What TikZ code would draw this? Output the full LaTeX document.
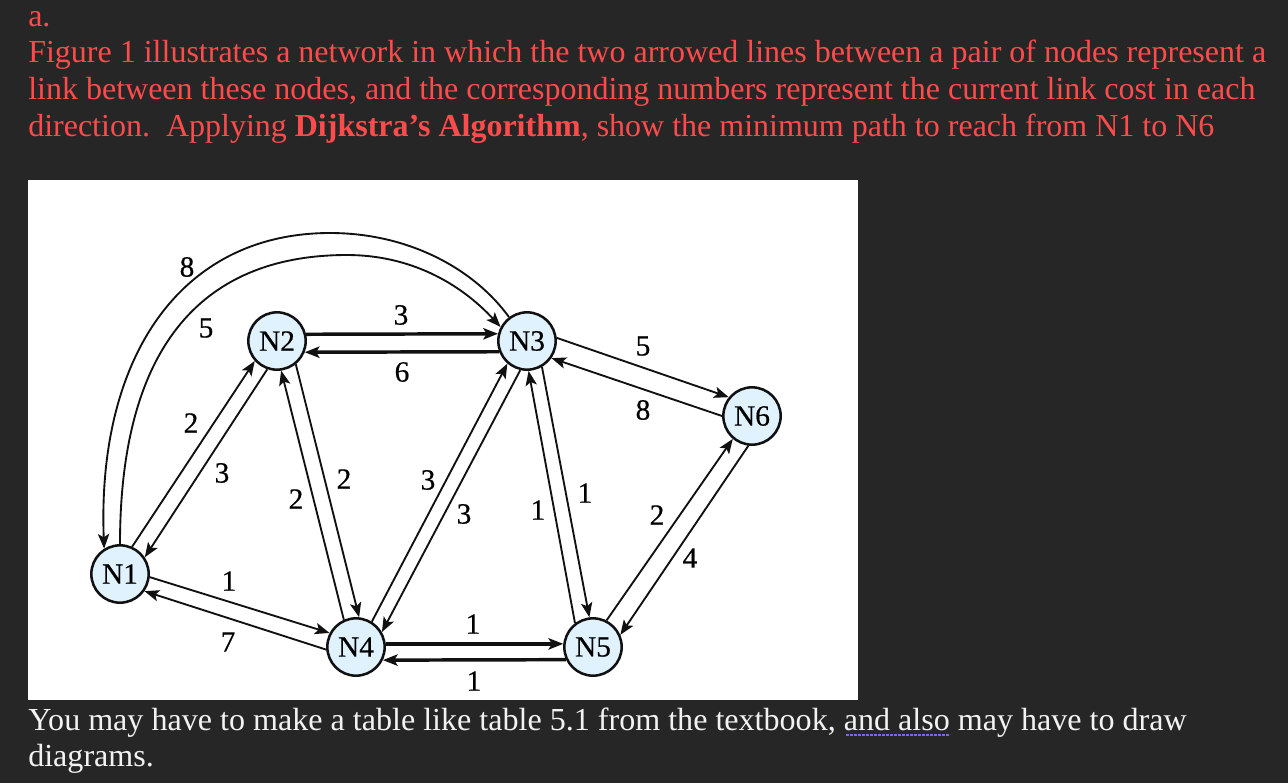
\documentclass[tikz,border=0pt]{standalone}
\usepackage{fontspec}
\setmainfont{Liberation Serif}
\newfontfamily\figfont[FakeBold=0.5]{Liberation Serif}
\usetikzlibrary{arrows.meta}
\definecolor{bgc}{HTML}{262626}
\definecolor{redt}{HTML}{FF4B4B}
\definecolor{whitet}{HTML}{F2F2F2}
\definecolor{nodef}{HTML}{E0F2FD}
\definecolor{inkc}{HTML}{111111}
\definecolor{ulc}{HTML}{7B68EE}
\tikzset{
  x=0.75pt,y=-0.75pt,
  netnode/.style={circle,draw=inkc,line width=1.9pt,fill=nodef,minimum size=43pt,inner sep=0pt,text=black,font=\figfont\fontsize{22}{22}\selectfont},
  lnk/.style={draw=inkc,line width=1.4pt,-{Stealth[length=11pt,width=8.5pt,inset=2.5pt]}},
  thk/.style={lnk,line width=2.6pt},
  cost/.style={text=black,inner sep=0pt,font=\figfont\fontsize{22}{22}\selectfont},
  txt/.style={anchor=base west,inner sep=0pt,font=\fontsize{24}{24}\selectfont},
  txtw/.style={anchor=base west,inner sep=0pt,font=\fontsize{24.06}{24}\selectfont},
}
\begin{document}
\begin{tikzpicture}
\useasboundingbox (0,0) rectangle (1288,783);
\fill[bgc] (0,0) rectangle (1288,783);
\fill[white] (28,180) rectangle (858,700);
% text
\node[txt,text=redt] (ta) at (28,26) {a.};
\node[txt,text=redt] (t1) at (28,62) {Figure 1 illustrates a network in which the two arrowed lines between a pair of nodes represent a};
\node[txt,text=redt] (t2) at (28,99) {link between these nodes, and the corresponding numbers represent the current link cost in each};
\node[txt,text=redt] (t3) at (28,136) {direction.\hspace{0.5em}Applying \textbf{Dijkstra’s Algorithm}, show the minimum path to reach from N1 to N6};
\node[txtw,text=whitet] (t4) at (28,730) {You may have to make a table like table 5.1 from the textbook, and also may have to draw};
\node[txtw,text=whitet] (t5) at (28,766) {diagrams.};
\coordinate (ula) at (846,735);
\coordinate (ulb) at (950,735);
\draw[ulc,line width=1.3pt,dash pattern=on 2pt off 1pt] (ula) -- (ulb);
% nodes
\node[netnode] (N1) at (120,574) {N1};
\node[netnode] (N2) at (277,341) {N2};
\node[netnode] (N3) at (527,341) {N3};
\node[netnode] (N4) at (356,647) {N4};
\node[netnode] (N5) at (593,647) {N5};
\node[netnode] (N6) at (752,416) {N6};
% links
\draw[lnk] (N1.66) -- (N2.222);
\draw[lnk] (N2.251) -- (N1.34);
\draw[lnk] (N4.114) -- (N2.278);
\draw[lnk] (N2.309) -- (N4.84);
\draw[thk] (N2.13.5) -- (N3.166.5);
\draw[thk] (N3.201.5) -- (N2.338.5);
\draw[lnk] (N4.58) -- (N3.229);
\draw[lnk] (N3.257) -- (N4.30);
\draw[lnk] (N5.127) -- (N3.273);
\draw[lnk] (N3.300) -- (N5.97);
\draw[lnk] (N5.63) -- (N6.230);
\draw[lnk] (N6.263) -- (N5.24);
\draw[lnk] (N3.6) -- (N6.141);
\draw[lnk] (N6.180) -- (N3.325);
\draw[lnk] (N1.354) -- (N4.152);
\draw[lnk] (N4.185) -- (N1.325);
\draw[thk] (N4.6) -- (N5.174);
\draw[thk] (N5.205.7) -- (N4.334.3);
\draw[lnk] (N3.127) .. controls (475,270) and (410,233) .. (330,233) .. controls (180,233) and (97,358) .. (N1.122);
\draw[lnk] (N1.90) .. controls (120,353) and (197,255) .. (347,255) .. controls (410,255) and (460,283) .. (N3.152);
% costs
\node[cost] (c1) at (187,267) {8};
\node[cost] (c2) at (206,328) {5};
\node[cost] (c3) at (191,423) {2};
\node[cost] (c4) at (222,473) {3};
\node[cost] (c5) at (296,499) {2};
\node[cost] (c6) at (344,479) {2};
\node[cost] (c7) at (401,315) {3};
\node[cost] (c8) at (402,372) {6};
\node[cost] (c9) at (428,480) {3};
\node[cost] (c10) at (464,514) {3};
\node[cost] (c11) at (538,510) {1};
\node[cost] (c12) at (585,493) {1};
\node[cost] (c13) at (643,346) {5};
\node[cost] (c14) at (643,410) {8};
\node[cost] (c15) at (657,515) {2};
\node[cost] (c16) at (690,558) {4};
\node[cost] (c17) at (229,581) {1};
\node[cost] (c18) at (228,642) {7};
\node[cost] (c19) at (473,624) {1};
\node[cost] (c20) at (474,681) {1};
\end{tikzpicture}
\end{document}
